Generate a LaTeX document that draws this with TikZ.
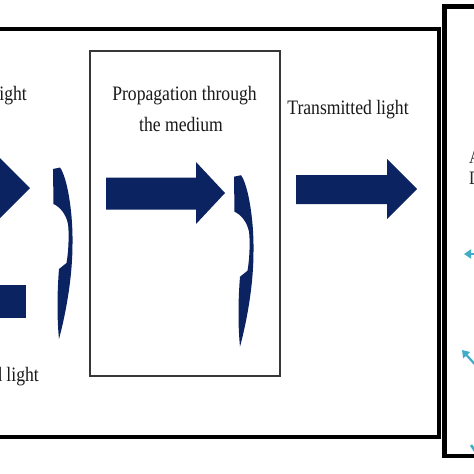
\documentclass[tikz,border=0pt]{standalone}
\usepackage{fontspec}
\setmainfont{Liberation Serif}
\usetikzlibrary{arrows.meta}
\definecolor{navy}{RGB}{12,35,98}
\definecolor{tealc}{RGB}{64,172,200}
\definecolor{boxgrey}{RGB}{55,55,55}
\newcommand\hsq[1]{\scalebox{0.86}[1]{#1}}
\tikzset{
  lbl/.style={font=\fontsize{20.5}{31}\selectfont, inner sep=0pt, anchor=base, text=black!90},
  lblsmall/.style={font=\fontsize{19}{21}\selectfont, inner sep=0pt, anchor=base west, text=black!85},
  outerbox/.style={draw=black, line width=4pt},
  innerbox/.style={draw=boxgrey, line width=2pt},
  blockarrow/.style={fill=navy},
  cyanarrow/.style={draw=tealc, line width=2.2pt, -{Triangle[length=7pt,width=9pt]}},
  crescent/.pic={
    \fill[navy] (0,0) -- (7,-1.5)
      .. controls (14,8) and (20,42) .. (19.5,75)
      .. controls (19.5,105) and (14,140) .. (6,170)
      .. controls (4,150) and (4,125) .. (6,100)
      -- (13.5,94)
      .. controls (16,80) and (16,62) .. (15,55)
      .. controls (13,45) and (7,38) .. (0.5,35) -- cycle;
  }
}
\begin{document}
\begin{tikzpicture}[x=1pt,y=-1pt]
\useasboundingbox (0,0) rectangle (474,474);
\fill[white] (0,0) rectangle (474,474);

% boxes
\draw[outerbox] (-20,28.5) rectangle (438.5,437);
\draw[innerbox] (89.5,51) rectangle (280,376);
\draw[outerbox, line width=4.5pt] (444.5,6.5) rectangle (500,456);

% block arrows
\fill[blockarrow] (-60,174) -- (0,174) -- (0,158) -- (30,188) -- (0,218) -- (0,203) -- (-60,203) -- cycle;
\fill[blockarrow] (-40,285) rectangle (26,318);
\fill[blockarrow] (106,177.5) -- (196,177.5) -- (196,162) -- (225,193) -- (196,224) -- (196,209.5) -- (106,209.5) -- cycle;
\fill[blockarrow] (296,175) -- (387,175) -- (387,159) -- (417,189) -- (387,219) -- (387,204) -- (296,204) -- cycle;

% curved arrows
\begin{scope}[shift={(53,169)}, yscale=1.04]
  \pic {crescent};
\end{scope}
\begin{scope}[shift={(234,176.7)}]
  \pic {crescent};
\end{scope}

% labels
\node[lbl, anchor=base east] (inc) at (27,100.5) {\hsq{Incident light}};
\node[lbl, anchor=base east] (refl) at (39,381) {\hsq{Reflected light}};
\node[lbl] (prop1) at (184.5,100.5) {\hsq{Propagation through}};
\node[lbl] (prop2) at (181,131) {\hsq{the medium}};
\node[lbl] (trans) at (348,114) {\hsq{Transmitted light}};
\node[lblsmall] (la) at (469,163) {\hsq{A}};
\node[lblsmall] (ld) at (469,184) {\hsq{D}};

% cyan arrows in right box
\coordinate (c1s) at (482,254);
\coordinate (c1e) at (464,254);
\coordinate (c2s) at (480,370);
\coordinate (c2e) at (462,350);
\coordinate (c3s) at (471,445);
\coordinate (c3e) at (477,454);
\draw[cyanarrow] (c1s) -- (c1e);
\draw[cyanarrow] (c2s) -- (c2e);
\draw[draw=tealc, line width=2.5pt] (c3s) -- (c3e);
\end{tikzpicture}
\end{document}
